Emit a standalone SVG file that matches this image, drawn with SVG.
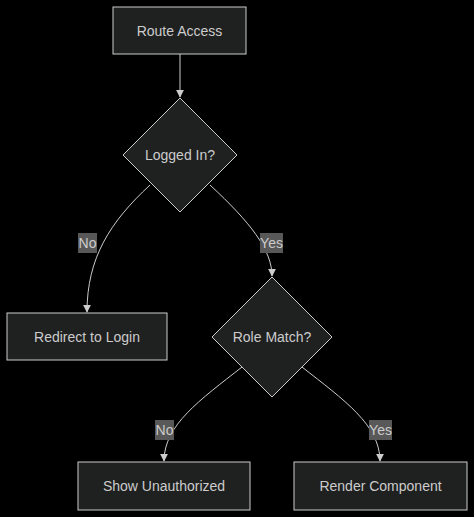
<svg xmlns="http://www.w3.org/2000/svg" width="474" height="517" viewBox="0 0 474 517">
<defs>
<style>
.node rect,.node polygon{fill:#1f2020;stroke:#cccccc;stroke-width:1}
.node text{fill:#cccccc;font-family:"Liberation Sans","DejaVu Sans",sans-serif;font-size:14px;text-anchor:middle;dominant-baseline:central}
.edge{fill:none;stroke:#cccccc;stroke-width:1;marker-end:url(#arrow)}
.lbl rect{fill:#585858}
.lbl text{fill:#cccccc;font-family:"Liberation Sans","DejaVu Sans",sans-serif;font-size:14px;text-anchor:middle;dominant-baseline:central}
</style>
<marker id="arrow" viewBox="0 0 10 10" refX="9" refY="5" markerWidth="8" markerHeight="8" orient="auto" markerUnits="userSpaceOnUse">
<path d="M0,0 L10,5 L0,10 z" fill="#cccccc"/>
</marker>
</defs>
<rect width="474" height="517" fill="#000000"/>
<g id="connectors">
<path class="edge" d="M180,54 L180,97"/>
<path class="edge" d="M150,185 C110,222 87,258 87,312"/>
<path class="edge" d="M210,185 C250,222 272,250 272,276"/>
<path class="edge" d="M242,367 C200,400 164,425 164,461"/>
<path class="edge" d="M302,367 C344,400 380,425 380,461"/>
</g>
<g id="edge-labels">
<g class="lbl"><rect x="78" y="233" width="19" height="20"/><text x="87.5" y="243">No</text></g>
<g class="lbl"><rect x="260" y="233" width="23" height="20"/><text x="271.5" y="243">Yes</text></g>
<g class="lbl"><rect x="155" y="420" width="19" height="20"/><text x="164.5" y="430">No</text></g>
<g class="lbl"><rect x="369" y="420" width="23" height="20"/><text x="380.5" y="430">Yes</text></g>
</g>
<g id="route-access" class="node"><rect x="113" y="7" width="133" height="47"/><text x="179.5" y="30.5">Route Access</text></g>
<g id="logged-in" class="node"><polygon points="180,98 237,155 180,212 123,155"/><text x="180" y="155">Logged In?</text></g>
<g id="redirect-login" class="node"><rect x="7" y="313" width="160" height="47"/><text x="87" y="336.5">Redirect to Login</text></g>
<g id="role-match" class="node"><polygon points="272,277 332,337 272,397 212,337"/><text x="272" y="337">Role Match?</text></g>
<g id="show-unauthorized" class="node"><rect x="78" y="462" width="172" height="48"/><text x="164" y="486">Show Unauthorized</text></g>
<g id="render-component" class="node"><rect x="294" y="462" width="173" height="48"/><text x="380.5" y="486">Render Component</text></g>
</svg>
